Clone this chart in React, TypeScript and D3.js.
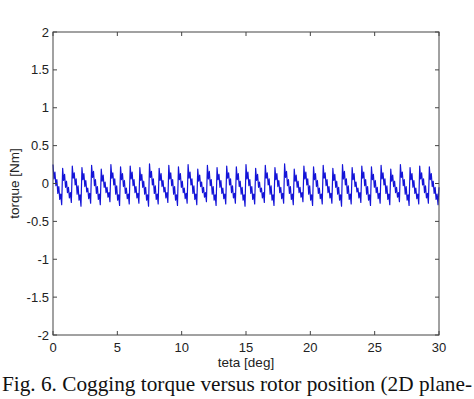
import * as d3 from 'd3'

// torque [Nm] sampled every THETA_STEP degrees, 0..30 deg
const THETA_STEP = 0.075
const torque: number[] = [
  0.25, 0.06, 0.15, -0.03, 0.05, -0.13, -0.04, -0.21, -0.14, -0.28,
  0.20, 0.04, 0.12, -0.05, 0.03, -0.12, -0.05, -0.19, -0.12, -0.25,
  0.23, 0.07, 0.14, -0.02, 0.06, -0.14, -0.03, -0.22, -0.15, -0.30,
  0.21, 0.05, 0.13, -0.04, 0.04, -0.11, -0.06, -0.20, -0.13, -0.26,
  0.24, 0.08, 0.16, -0.03, 0.05, -0.13, -0.04, -0.21, -0.14, -0.28,
  0.19, 0.03, 0.11, -0.05, 0.02, -0.12, -0.05, -0.18, -0.12, -0.24,
  0.25, 0.07, 0.14, -0.02, 0.06, -0.14, -0.03, -0.22, -0.15, -0.29,
  0.22, 0.05, 0.13, -0.04, 0.04, -0.13, -0.06, -0.20, -0.14, -0.27,
  0.23, 0.06, 0.15, -0.03, 0.05, -0.12, -0.04, -0.19, -0.13, -0.26,
  0.21, 0.04, 0.12, -0.05, 0.03, -0.14, -0.05, -0.22, -0.15, -0.30,
  0.26, 0.08, 0.16, -0.02, 0.06, -0.13, -0.03, -0.21, -0.14, -0.27,
  0.20, 0.04, 0.13, -0.04, 0.04, -0.11, -0.05, -0.19, -0.12, -0.25,
  0.24, 0.06, 0.14, -0.03, 0.05, -0.14, -0.04, -0.22, -0.15, -0.29,
  0.22, 0.05, 0.13, -0.05, 0.03, -0.12, -0.06, -0.20, -0.13, -0.26,
  0.25, 0.07, 0.15, -0.02, 0.06, -0.13, -0.03, -0.21, -0.14, -0.28,
  0.19, 0.03, 0.11, -0.04, 0.02, -0.12, -0.05, -0.18, -0.12, -0.24,
  0.24, 0.06, 0.16, -0.03, 0.05, -0.14, -0.04, -0.22, -0.15, -0.29,
  0.21, 0.05, 0.12, -0.05, 0.04, -0.13, -0.06, -0.20, -0.14, -0.27,
  0.23, 0.07, 0.14, -0.02, 0.06, -0.12, -0.03, -0.19, -0.13, -0.26,
  0.22, 0.05, 0.13, -0.04, 0.03, -0.14, -0.05, -0.22, -0.15, -0.30,
  0.25, 0.06, 0.15, -0.03, 0.05, -0.13, -0.04, -0.21, -0.14, -0.27,
  0.20, 0.04, 0.12, -0.05, 0.02, -0.11, -0.06, -0.19, -0.12, -0.25,
  0.24, 0.07, 0.14, -0.02, 0.06, -0.14, -0.03, -0.22, -0.15, -0.29,
  0.21, 0.05, 0.13, -0.04, 0.04, -0.12, -0.05, -0.20, -0.13, -0.26,
  0.26, 0.08, 0.16, -0.03, 0.05, -0.13, -0.04, -0.21, -0.14, -0.28,
  0.19, 0.03, 0.11, -0.05, 0.03, -0.12, -0.05, -0.18, -0.12, -0.24,
  0.23, 0.06, 0.15, -0.02, 0.06, -0.14, -0.03, -0.22, -0.15, -0.29,
  0.22, 0.05, 0.13, -0.04, 0.04, -0.13, -0.06, -0.20, -0.14, -0.27,
  0.24, 0.07, 0.14, -0.03, 0.05, -0.12, -0.04, -0.19, -0.13, -0.26,
  0.20, 0.04, 0.12, -0.05, 0.03, -0.14, -0.05, -0.22, -0.15, -0.30,
  0.25, 0.06, 0.16, -0.02, 0.06, -0.13, -0.03, -0.21, -0.14, -0.27,
  0.21, 0.05, 0.13, -0.04, 0.02, -0.11, -0.06, -0.19, -0.12, -0.25,
  0.23, 0.07, 0.15, -0.03, 0.05, -0.14, -0.04, -0.22, -0.15, -0.29,
  0.22, 0.05, 0.12, -0.05, 0.04, -0.12, -0.05, -0.20, -0.13, -0.26,
  0.24, 0.06, 0.14, -0.02, 0.06, -0.13, -0.03, -0.21, -0.14, -0.28,
  0.19, 0.03, 0.11, -0.04, 0.03, -0.12, -0.05, -0.18, -0.12, -0.24,
  0.25, 0.08, 0.15, -0.03, 0.05, -0.14, -0.04, -0.22, -0.15, -0.29,
  0.21, 0.05, 0.13, -0.05, 0.04, -0.13, -0.06, -0.20, -0.14, -0.27,
  0.23, 0.06, 0.14, -0.02, 0.06, -0.12, -0.03, -0.19, -0.13, -0.26,
  0.22, 0.05, 0.13, -0.04, 0.03, -0.13, -0.05, -0.21, -0.14, -0.28,
  -0.05,
]

const xTicks = [0, 5, 10, 15, 20, 25, 30]
const yTicks = [-2, -1.5, -1, -0.5, 0, 0.5, 1, 1.5, 2]
const xLabel = 'teta [deg]'
const yLabel = 'torque [Nm]'
const caption = 'Fig. 6. Cogging torque versus rotor position (2D plane-'

const W = 474
const H = 399
const left = 53
const right = 439
const top = 32
const bottom = 335
const tick = 4
const font = 'Liberation Sans, Arial, Helvetica, sans-serif'

export default function App() {
  const x = d3.scaleLinear().domain([0, 30]).range([left, right])
  const y = d3.scaleLinear().domain([-2, 2]).range([bottom, top])
  const line = d3.line<number>()
    .x((_, i) => x(i * THETA_STEP))
    .y((d) => y(d))

  return (
    <svg width={W} height={H} style={{ position: 'absolute', left: 0, top: 0, background: '#fff' }}>
      <rect x={0} y={0} width={W} height={H} fill="#fff" />
      <path d={line(torque) ?? ''} fill="none" stroke="#1414d8" strokeWidth={1.2} strokeLinejoin="round" />
      <rect x={left} y={top} width={right - left} height={bottom - top} fill="none" stroke="#444" strokeWidth={1} />
      {xTicks.map((t) => (
        <g key={'x' + t}>
          <line x1={x(t)} x2={x(t)} y1={bottom} y2={bottom - tick} stroke="#444" />
          <line x1={x(t)} x2={x(t)} y1={top} y2={top + tick} stroke="#444" />
          <text x={x(t)} y={bottom + 17} textAnchor="middle" fontSize={13} fontFamily={font} fill="#222">{t}</text>
        </g>
      ))}
      {yTicks.map((t) => (
        <g key={'y' + t}>
          <line x1={left} x2={left + tick} y1={y(t)} y2={y(t)} stroke="#444" />
          <line x1={right} x2={right - tick} y1={y(t)} y2={y(t)} stroke="#444" />
          <text x={left - 4} y={y(t)} dy="0.35em" textAnchor="end" fontSize={13} fontFamily={font} fill="#222">{t}</text>
        </g>
      ))}
      <text x={(left + right) / 2} y={367} textAnchor="middle" fontSize={13.5} fontFamily={font} fill="#222">{xLabel}</text>
      <text transform={`translate(19,${(top + bottom) / 2}) rotate(-90)`} textAnchor="middle" fontSize={13.5} fontFamily={font} fill="#222">{yLabel}</text>
      <text x={2} y={391} fontSize={21} fontFamily="Liberation Serif, Times New Roman, serif" fill="#111" textLength={470} lengthAdjust="spacingAndGlyphs">{caption}</text>
    </svg>
  )
}
